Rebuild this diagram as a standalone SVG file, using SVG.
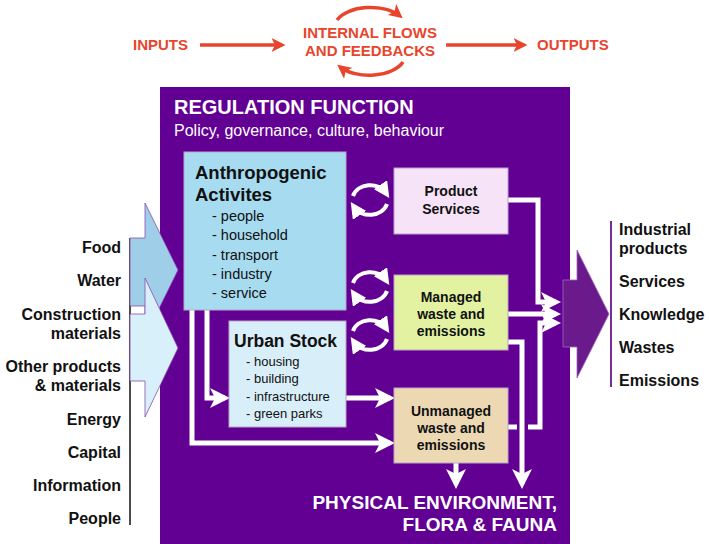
<svg xmlns="http://www.w3.org/2000/svg" width="709" height="544" viewBox="0 0 709 544">
<defs>
<marker id="wa" markerWidth="4" markerHeight="4" refX="3" refY="2" orient="auto" markerUnits="strokeWidth"><path d="M0,0 L4,2 L0,4 L1,2 Z" fill="#fff"/></marker>
<marker id="ra" markerWidth="4" markerHeight="4" refX="3" refY="2" orient="auto" markerUnits="strokeWidth"><path d="M0,0 L4,2 L0,4 L1,2 Z" fill="#e8452c"/></marker>
<marker id="ca" markerWidth="4" markerHeight="4" refX="2.5" refY="2" orient="auto" markerUnits="strokeWidth"><path d="M0,0 L4,2 L0,4 Z" fill="#fff"/></marker>
</defs>
<style>
text{font-family:"Liberation Sans",Arial,sans-serif}
.b{font-weight:bold}
.red{fill:#e8452c;font-weight:bold;font-size:15px}
.lt{font-size:16px;font-weight:bold;fill:#111;text-anchor:end}
.rt{font-size:16px;font-weight:bold;fill:#111}
.w{fill:none;stroke:#fff;stroke-width:5}
.c{fill:none;stroke:#fff;stroke-width:4}
.box{stroke:#b9a3c8;stroke-width:1}
.bl{font-size:14px;font-weight:bold;fill:#111;text-anchor:middle}
</style>
<g id="header">
<text x="133" y="50" class="red">INPUTS</text>
<text x="370" y="38" class="red" text-anchor="middle">INTERNAL FLOWS</text>
<text x="370" y="56" class="red" text-anchor="middle">AND FEEDBACKS</text>
<text x="537" y="50" class="red">OUTPUTS</text>
<g fill="none" stroke="#e8452c" stroke-width="3.5">
<line x1="200" y1="45" x2="282" y2="45" marker-end="url(#ra)"/>
<line x1="446" y1="45" x2="524" y2="45" marker-end="url(#ra)"/>
<path d="M337,20 A36,20 0 0 1 400,16" marker-end="url(#ra)"/>
<path d="M403,62 A36,20 0 0 1 340,67" marker-end="url(#ra)"/>
</g>
</g>
<g id="regulation">
<rect x="160" y="87" width="410" height="457" fill="#620093"/>
<text x="174" y="114" class="b" font-size="20" fill="#fff">REGULATION FUNCTION</text>
<text x="174" y="136" font-size="16" fill="#fff">Policy, governance, culture, behaviour</text>
<text x="557" y="509" class="b" font-size="19" fill="#fff" text-anchor="end">PHYSICAL ENVIRONMENT,</text>
<text x="557" y="531" class="b" font-size="19" fill="#fff" text-anchor="end">FLORA &amp; FAUNA</text>
</g>
<g id="inputs">
<line x1="130" y1="238" x2="130" y2="525" stroke="#111" stroke-width="1.5"/>
<path d="M130,238 H145 V203 L178,270 L145,337 V306 H130 Z" fill="#9fcfe8" stroke="#8a4bb0" stroke-width="0.8"/>
<path d="M130,314 H145 V278 L178,348 L145,417 V381 H130 Z" fill="#d8f0f9" stroke="#8a4bb0" stroke-width="0.8"/>
<text x="121" y="253" class="lt">Food</text>
<text x="121" y="286" class="lt">Water</text>
<text x="121" y="320" class="lt">Construction</text>
<text x="121" y="339" class="lt">materials</text>
<text x="121" y="372" class="lt">Other products</text>
<text x="121" y="391" class="lt">&amp; materials</text>
<text x="121" y="425" class="lt">Energy</text>
<text x="121" y="458" class="lt">Capital</text>
<text x="121" y="491" class="lt">Information</text>
<text x="121" y="524" class="lt">People</text>
</g>
<g id="outputs">
<path d="M563,280 H577 V250 L609,314 L577,378 V347 H563 Z" fill="#6a1a8a" stroke="#9a6ab8" stroke-width="0.8"/>
<line x1="611" y1="221" x2="611" y2="387" stroke="#7a2a9a" stroke-width="2"/>
<text x="619" y="235" class="rt">Industrial</text>
<text x="619" y="254" class="rt">products</text>
<text x="619" y="287" class="rt">Services</text>
<text x="619" y="320" class="rt">Knowledge</text>
<text x="619" y="353" class="rt">Wastes</text>
<text x="619" y="386" class="rt">Emissions</text>
</g>
<g id="connectors">
<path class="w" d="M508,200 H538 V302 H556" marker-end="url(#wa)"/>
<path class="w" d="M508,314 H556" marker-end="url(#wa)"/>
<path class="w" d="M508,342 H522 V484" marker-end="url(#wa)"/>
<path class="w" d="M508,427 H517"/>
<path class="w" d="M528,427 H540 V323 H556" marker-end="url(#wa)"/>
<path class="w" d="M456,463 V484" marker-end="url(#wa)"/>
<path class="w" d="M192,310 V443 H390" marker-end="url(#wa)"/>
<path class="w" d="M207,310 V398 H225" marker-end="url(#wa)"/>
<path class="w" d="M346,398 H390" marker-end="url(#wa)"/>
<g class="c">
<path d="M353,196 A18,15 0 0 1 386,193" marker-end="url(#ca)"/>
<path d="M387,204 A18,15 0 0 1 354,207" marker-end="url(#ca)"/>
<path d="M353,283 A18,15 0 0 1 386,280" marker-end="url(#ca)"/>
<path d="M387,291 A18,15 0 0 1 354,294" marker-end="url(#ca)"/>
<path d="M353,331 A18,15 0 0 1 386,328" marker-end="url(#ca)"/>
<path d="M387,339 A18,15 0 0 1 354,342" marker-end="url(#ca)"/>
</g>
</g>
<g id="anthropogenic">
<rect x="184" y="152" width="162" height="158" fill="#a6dbf0" class="box"/>
<text x="195" y="179" class="b" font-size="18.5" fill="#111">Anthropogenic</text>
<text x="195" y="201" class="b" font-size="18.5" fill="#111">Activites</text>
<g font-size="14.5" fill="#111">
<text x="212" y="221">- people</text>
<text x="212" y="240">- household</text>
<text x="212" y="260">- transport</text>
<text x="212" y="279">- industry</text>
<text x="212" y="298">- service</text>
</g>
</g>
<g id="urban">
<rect x="229" y="321" width="117" height="106" fill="#d8eef9" class="box"/>
<text x="234" y="347" class="b" font-size="17.5" fill="#111">Urban Stock</text>
<g font-size="13" fill="#111">
<text x="246" y="366">- housing</text>
<text x="246" y="383">- building</text>
<text x="246" y="401">- infrastructure</text>
<text x="246" y="418">- green parks</text>
</g>
</g>
<g id="product">
<rect x="394" y="168" width="114" height="66" fill="#f6e3f7" class="box"/>
<text x="451" y="196" class="bl">Product</text>
<text x="451" y="214" class="bl">Services</text>
</g>
<g id="managed">
<rect x="394" y="275" width="114" height="75" fill="#e2f2a0" class="box"/>
<text x="451" y="302" class="bl">Managed</text>
<text x="451" y="319" class="bl">waste and</text>
<text x="451" y="336" class="bl">emissions</text>
</g>
<g id="unmanaged">
<rect x="394" y="388" width="114" height="75" fill="#ecd9b4" class="box"/>
<text x="451" y="416" class="bl">Unmanaged</text>
<text x="451" y="433" class="bl">waste and</text>
<text x="451" y="450" class="bl">emissions</text>
</g>
</svg>
